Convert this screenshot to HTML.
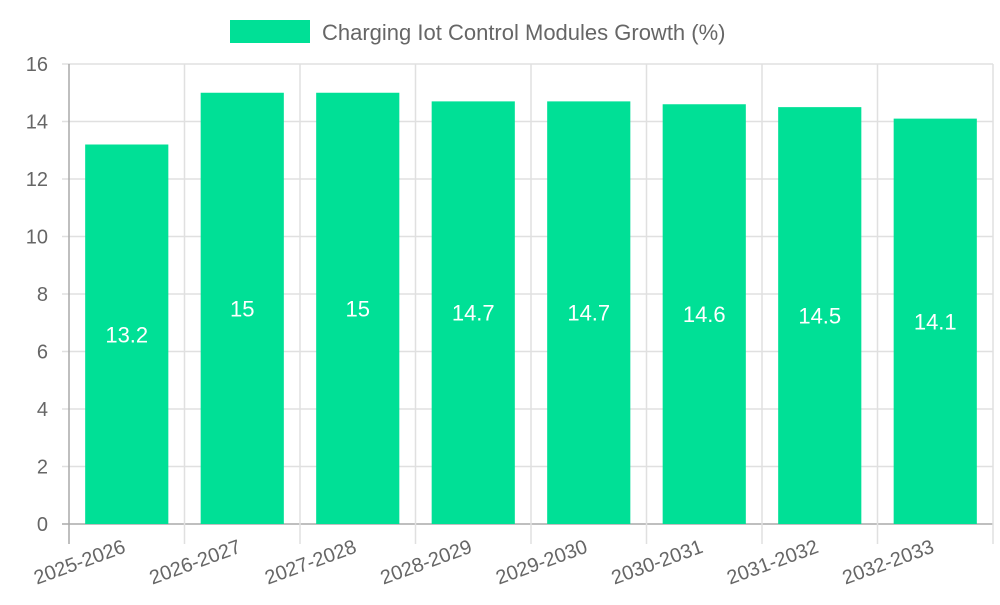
<!DOCTYPE html>
<html><head><meta charset="utf-8"><style>
body{margin:0;background:#fff;}
svg text{font-family:"Liberation Sans",sans-serif;}
</style></head><body>
<svg id="chart" width="1000" height="600" xmlns="http://www.w3.org/2000/svg">
<g>
<rect x="230" y="20" width="80" height="23" fill="#00e096"/>
<text x="322" y="40" font-size="22" fill="#666">Charging Iot Control Modules Growth (%)</text>
</g>
<g id="grid"></g>
<g id="bars"></g>
<g id="axes"></g>
</svg>
<script>
const categories=["2025-2026","2026-2027","2027-2028","2028-2029","2029-2030","2030-2031","2031-2032","2032-2033"];
const values=[13.2,15,15,14.7,14.7,14.6,14.5,14.1];
const yTicks=[0,2,4,6,8,10,12,14,16];
const NS="http://www.w3.org/2000/svg";
const L=69,R=993,T=64,B=524,yMax=16;
const cw=(R-L)/categories.length;
const y=v=>B-(B-T)*v/yMax;
const x=i=>L+cw*i;
function mk(tag,attrs,parent,txt){const e=document.createElementNS(NS,tag);for(const k in attrs)e.setAttribute(k,attrs[k]);if(txt!==undefined)e.textContent=txt;parent.appendChild(e);return e;}
const grid=document.getElementById('grid'),bars=document.getElementById('bars'),axes=document.getElementById('axes');
yTicks.forEach(t=>{
 const ln=mk('line',{x1:62,x2:R,y1:y(t),y2:y(t),stroke:t===0?'#aaa':'#e0e0e0','stroke-width':1.5},grid);
 
 
 const tx=mk('text',{x:48,y:y(t)+7,'font-size':20,fill:'#666','text-anchor':'end'},axes,String(t));
 
 
});
for(let i=0;i<=categories.length;i++){
 const ln=mk('line',{x1:x(i),x2:x(i),y1:T,y2:544,stroke:i===0?'#aaa':'#e0e0e0','stroke-width':1.5},grid);
 
 
}
categories.forEach((c,i)=>{
 const bw=cw*0.72,bx=x(i)+(cw-bw)/2,v=values[i];
 const r=mk('rect',{x:bx,y:y(v),width:bw,height:B-y(v),fill:'#00e096'},bars);
 
 
 const lb=mk('text',{x:bx+bw/2,y:(y(v)+B)/2+8,'font-size':22,fill:'#fff','text-anchor':'middle'},bars,String(v));
 
 
 const cx=x(i)+cw/2;
 const xl=mk('text',{x:cx,y:552,'font-size':20,fill:'#666','text-anchor':'end',transform:`rotate(-20 ${cx} 552)`},axes,c);
 
 
});
</script>
</body></html>
